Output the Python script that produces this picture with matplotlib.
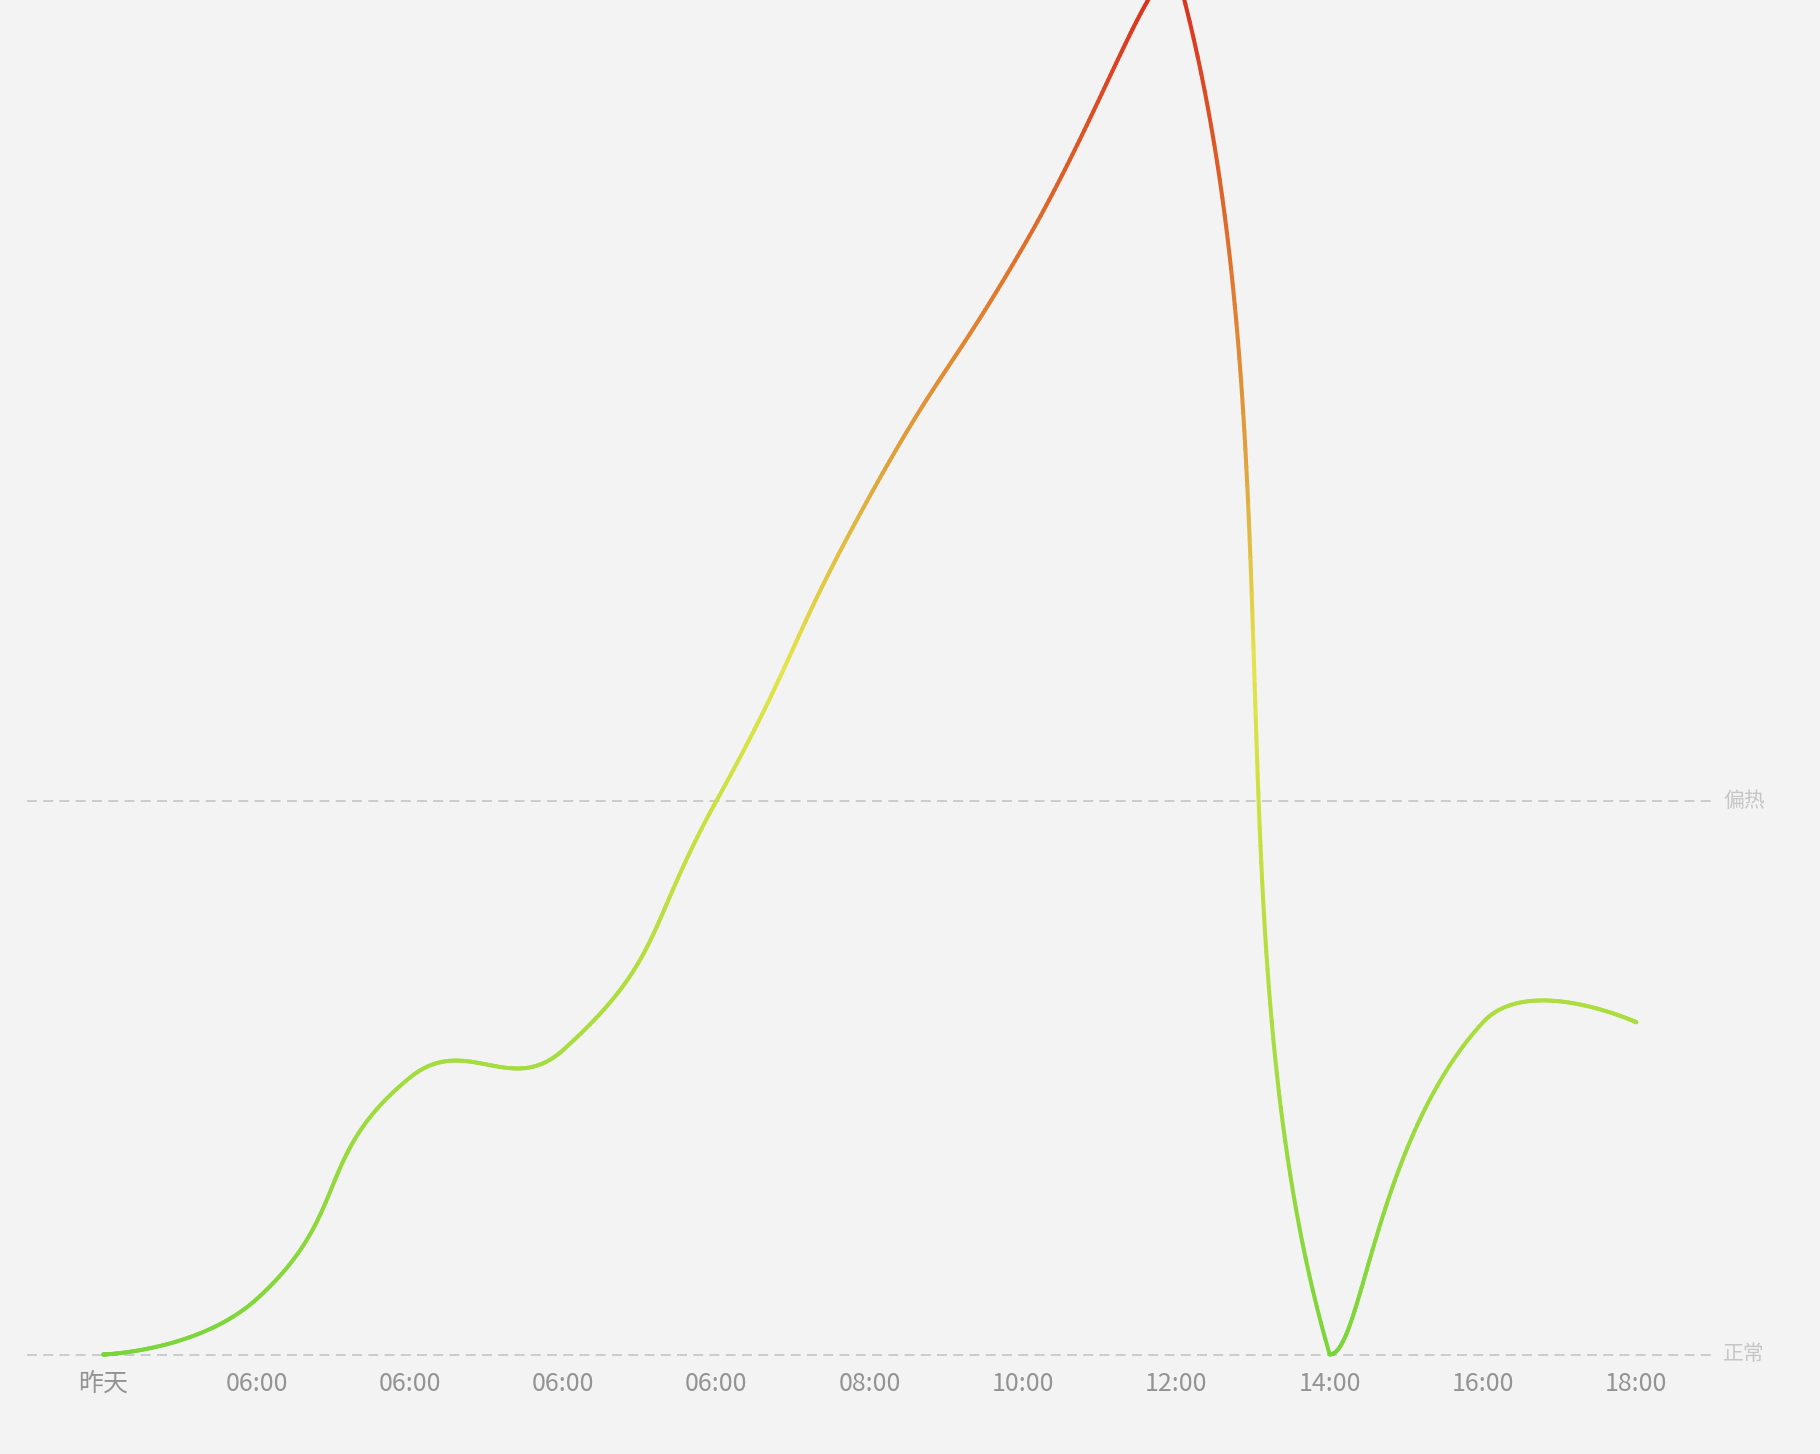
import numpy as np
import matplotlib
matplotlib.use("Agg")
import matplotlib.pyplot as plt
from matplotlib.collections import LineCollection
from matplotlib.colors import LinearSegmentedColormap, Normalize

plt.rcParams['font.family'] = ['Noto Sans CJK SC', 'DejaVu Sans']

# category labels (the source really repeats 06:00)
labels = ["昨天", "06:00", "06:00", "06:00", "06:00", "08:00",
          "10:00", "12:00", "14:00", "16:00", "18:00"]
# temperature readings, one per category
temps = [36.0, 36.1, 36.5, 36.55, 37.0, 37.55, 38.0, 38.5, 36.0, 36.6, 36.6]

# reference levels
level_vals = [36.0, 37.0]
level_names = ["正常", "偏热"]

# colour ramp of the line, by value
stop_vals = [36.0, 36.5, 37.0, 37.25, 37.6, 38.0, 38.45]
stop_cols = ["#7AD53B", "#A3DC3F", "#CDE040", "#E3E44B", "#DFA53D", "#E0702B", "#D9331F"]

BG = "#F3F3F3"
W, H = 1820, 1454
fig = plt.figure(figsize=(W / 100, H / 100), dpi=100, facecolor=BG)

# axes bottom sits on the "正常" line, top is the top of the picture
base_px = 1354.5
ax = fig.add_axes([0, (H - base_px) / H, 1, base_px / H])
ax.set_facecolor(BG)
step, first = 153.3, 103.3
ax.set_xlim(-first / step, (W - first) / step)
ax.set_ylim(36.0, 36.0 + base_px / 553.8)
for s in ax.spines.values():
    s.set_visible(False)


def smooth_path(px, smooth=0.5, n=80):
    # echarts-style smoothing: bezier control points along (next - prev),
    # clamped to the bounding box of the points
    lo, hi = px.min(axis=0), px.max(axis=0)
    out_cp, in_cp = [px[0]], []
    for i in range(1, len(px) - 1):
        p, prv, nxt = px[i], px[i - 1], px[i + 1]
        v = (nxt - prv) * smooth
        d0 = np.hypot(*(p - prv))
        d1 = np.hypot(*(p - nxt))
        tot = d0 + d1
        if tot:
            d0, d1 = d0 / tot, d1 / tot
        in_cp.append(np.clip(p - v * d0, lo, hi))
        out_cp.append(np.clip(p + v * d1, lo, hi))
    in_cp.append(px[-1])
    t = np.linspace(0, 1, n)[:, None]
    pts = []
    for i in range(len(px) - 1):
        a, b, c, d = px[i], out_cp[i], in_cp[i], px[i + 1]
        seg = (1 - t) ** 3 * a + 3 * (1 - t) ** 2 * t * b + 3 * (1 - t) * t ** 2 * c + t ** 3 * d
        pts.append(seg if i == 0 else seg[1:])
    return np.vstack(pts)


# dashed reference lines + their labels
ax.hlines(level_vals, -0.5, len(labels) - 0.5, colors="#C8C8C8",
          linestyles=(0, (5.5, 3.5)), linewidth=1.3, clip_on=False, zorder=1)
for v, name in zip(level_vals, level_names):
    ax.annotate(name, (len(labels) - 0.5, v), xytext=(7.5, 0), textcoords="offset points",
                ha="left", va="center", color="#C6C6C6", fontsize=15, annotation_clip=False)

# smoothed line, coloured by value
xy = np.column_stack([np.arange(len(temps)), temps])
px = ax.transData.transform(xy)
curve = ax.transData.inverted().transform(smooth_path(px))
segs = np.stack([curve[:-1], curve[1:]], axis=1)
norm = Normalize(stop_vals[0], stop_vals[-1])
cmap = LinearSegmentedColormap.from_list("heat", list(zip(norm(stop_vals), stop_cols)))
lc = LineCollection(segs, cmap=cmap, norm=norm, linewidths=2.9, clip_on=False, zorder=3)
lc.set_capstyle("round")
lc.set_joinstyle("round")
lc.set_array(segs[:, :, 1].mean(axis=1))
ax.add_collection(lc)

ax.set_xticks(range(len(labels)), labels)
ax.set_yticks([])
ax.tick_params(axis="x", length=0, pad=12, labelsize=18, colors="#939393")

fig.savefig("out.png", dpi=100, facecolor=BG)
